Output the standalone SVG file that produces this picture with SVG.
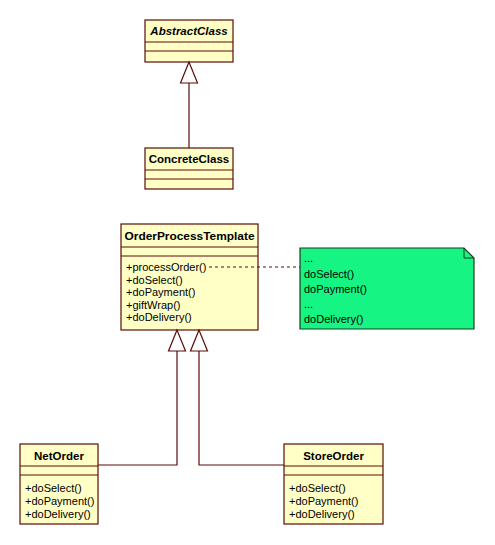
<svg xmlns="http://www.w3.org/2000/svg" width="495" height="545" viewBox="0 0 495 545">
<style>
.box{fill:#FFFFC6;stroke:#5C0A0A;stroke-width:1.2}
.sep{stroke:#5C0A0A;stroke-width:1}
.title{font-family:"Liberation Sans",Arial,sans-serif;font-size:11.5px;font-weight:bold;fill:#000;text-anchor:middle}
.m{font-family:"Liberation Sans",Arial,sans-serif;font-size:11px;fill:#000}
.conn{fill:none;stroke:#5C0A0A;stroke-width:1.2}
.tri{fill:#fff;stroke:#5C0A0A;stroke-width:1.2}
.note{fill:#16F483;stroke:#1E3A1E;stroke-width:1.2}
</style>
<rect width="495" height="545" fill="#fff"/>
<g id="AbstractClass">
<rect class="box" x="145" y="20" width="88" height="42"/>
<line class="sep" x1="145" y1="42" x2="233" y2="42"/>
<line class="sep" x1="145" y1="51" x2="233" y2="51"/>
<text class="title" x="189" y="35" font-style="italic">AbstractClass</text>
</g>
<g id="ConcreteClass">
<rect class="box" x="145" y="148" width="88" height="41"/>
<line class="sep" x1="145" y1="170" x2="233" y2="170"/>
<line class="sep" x1="145" y1="179" x2="233" y2="179"/>
<text class="title" x="189" y="163">ConcreteClass</text>
</g>
<g id="OrderProcessTemplate">
<rect class="box" x="121" y="224" width="137" height="106"/>
<line class="sep" x1="121" y1="247" x2="258" y2="247"/>
<line class="sep" x1="121" y1="256" x2="258" y2="256"/>
<text class="title" x="189.5" y="240" textLength="130" lengthAdjust="spacingAndGlyphs">OrderProcessTemplate</text>
<text class="m" x="126" y="271">+processOrder()</text>
<text class="m" x="126" y="283.5">+doSelect()</text>
<text class="m" x="126" y="296">+doPayment()</text>
<text class="m" x="126" y="308.5">+giftWrap()</text>
<text class="m" x="126" y="321">+doDelivery()</text>
</g>
<g id="Note">
<path class="note" d="M300,248 H464 L474,258 V329 H300 Z"/>
<path d="M464,248 V258 H474" fill="none" stroke="#1E3A1E" stroke-width="1"/>
<text class="m" x="304" y="262">...</text>
<text class="m" x="304" y="278">doSelect()</text>
<text class="m" x="304" y="293">doPayment()</text>
<text class="m" x="304" y="308">...</text>
<text class="m" x="304" y="323">doDelivery()</text>
</g>
<g id="NetOrder">
<rect class="box" x="20" y="444" width="78" height="80"/>
<line class="sep" x1="20" y1="466" x2="98" y2="466"/>
<line class="sep" x1="20" y1="475" x2="98" y2="475"/>
<text class="title" x="59" y="460">NetOrder</text>
<text class="m" x="25" y="492">+doSelect()</text>
<text class="m" x="25" y="505">+doPayment()</text>
<text class="m" x="25" y="518">+doDelivery()</text>
</g>
<g id="StoreOrder">
<rect class="box" x="284" y="444" width="99" height="80"/>
<line class="sep" x1="284" y1="466" x2="383" y2="466"/>
<line class="sep" x1="284" y1="475" x2="383" y2="475"/>
<text class="title" x="333.5" y="460">StoreOrder</text>
<text class="m" x="289" y="492">+doSelect()</text>
<text class="m" x="289" y="505">+doPayment()</text>
<text class="m" x="289" y="518">+doDelivery()</text>
</g>
<g id="connectors">
<polyline class="conn" points="189,83 189,148"/>
<polygon class="tri" points="189,62 180.5,83 197.5,83"/>
<polyline class="conn" points="177,351 177,465 98,465"/>
<polyline class="conn" points="199,351 199,465 284,465"/>
<polygon class="tri" points="177,330 168.5,351 185.5,351"/>
<polygon class="tri" points="199,330 190.5,351 207.5,351"/>
<line x1="209" y1="267" x2="300" y2="267" stroke="#5C0A0A" stroke-width="1" stroke-dasharray="3,3"/>
</g>
</svg>
